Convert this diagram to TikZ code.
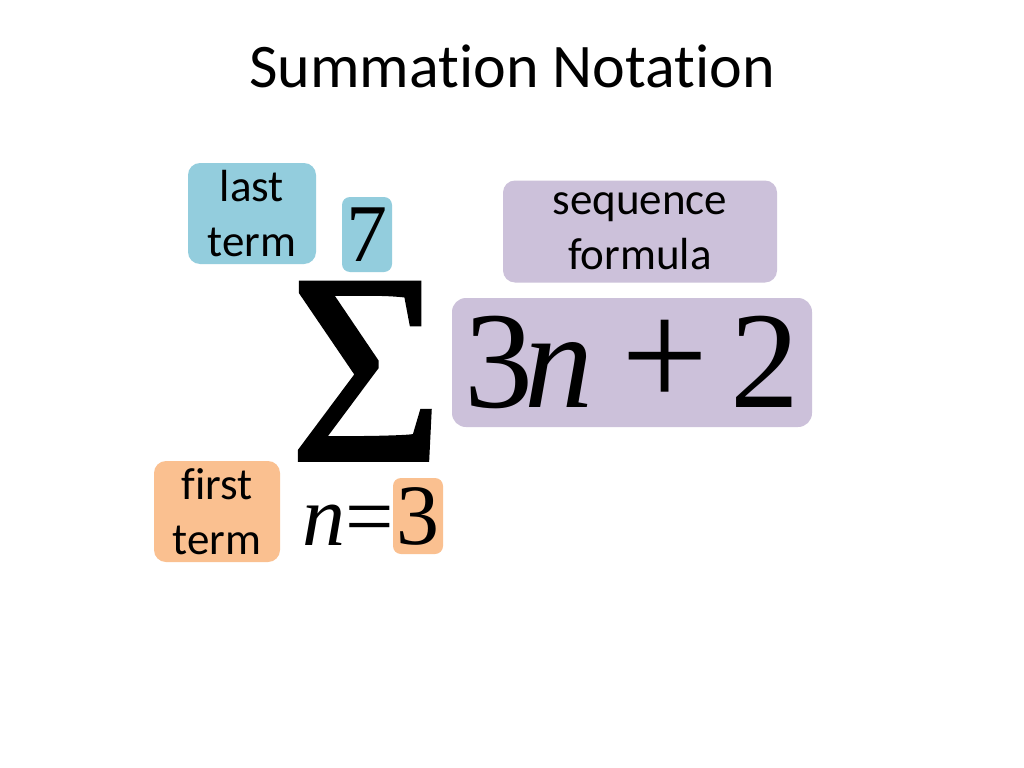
\documentclass[tikz,border=0pt]{standalone}
\usepackage{fontspec}
\usepackage{graphicx}
\usepackage{xcolor}
\setmainfont{Carlito}[Ligatures=NoCommon]
\newfontfamily\timesf{Liberation Serif}
\newfontfamily\sigmaf{Liberation Serif}[FakeBold=1.2]
\definecolor{termblue}{RGB}{147,205,221}
\definecolor{formpurple}{RGB}{204,193,218}
\definecolor{termorange}{RGB}{250,192,144}

\begin{document}
\begin{tikzpicture}[x=1bp, y=-1bp,
  lbl/.style={rectangle, rounded corners=12bp, inner sep=0pt, align=center, font=\fontsize{45bp}{55bp}\selectfont},
  mbox/.style={rectangle, rounded corners=8bp, inner sep=0pt, font=\timesf\fontsize{82bp}{90bp}\selectfont}]
\useasboundingbox[fill=white] (0,0) rectangle (1024,768);
\node[anchor=base, font=\fontsize{62bp}{70bp}\selectfont] (title) at (512,88) {Summation Notation};

\node[lbl, fill=termblue, minimum width=128bp, minimum height=101bp] (lastlbl) at (252,213.5) {last\\term};
\node[mbox, fill=termblue, minimum width=50bp, minimum height=75bp] (upper) at (367,234.5) {7};
\node[lbl, fill=formpurple, minimum width=274bp, minimum height=102bp] (formlbl) at (640,231.5) {sequence\\formula};
\node[mbox, fill=formpurple, minimum width=360bp, minimum height=129bp, rounded corners=14bp, font=\timesf\fontsize{138bp}{140bp}\selectfont] (formula) at (632,362.5) {3\hspace{-0.06em}\textit{n}\hspace{0.2em}\scalebox{1.12}{+}\hspace{0.16em}2};
\node[anchor=north west, inner sep=0pt] (sigma) at (289,282) {\resizebox*{154bp}{178bp}{\sigmaf Σ}};

\node[lbl, fill=termorange, minimum width=126bp, minimum height=101bp] (firstlbl) at (217,511.5) {first\\term};
\node[mbox, fill=termorange, minimum width=50bp, minimum height=76bp, font=\timesf\fontsize{86bp}{90bp}\selectfont] (lower) at (418,516) {3};
\node[anchor=base east, inner sep=0pt, font=\timesf\fontsize{86bp}{90bp}\selectfont] (index) at (394.5,545) {\textit{n}=};
\end{tikzpicture}
\end{document}
